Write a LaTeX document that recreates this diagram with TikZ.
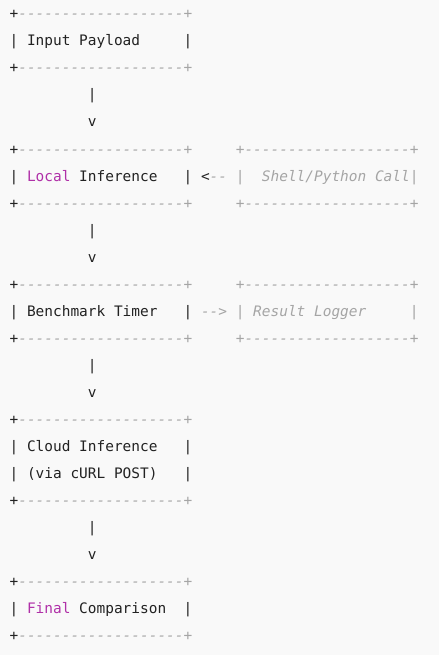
\documentclass[tikz,border=0pt]{standalone}
\usepackage{fontspec}
\setmonofont{DejaVu Sans Mono}
\usepackage{xcolor}
\usepackage{tikz}
\definecolor{bggray}{RGB}{249, 249, 249}
\definecolor{textblack}{RGB}{34, 34, 34}
\definecolor{commentgray}{RGB}{165, 165, 165}
\definecolor{keywordpink}{RGB}{176, 48, 168}
\newcommand{\cmt}[1]{\textcolor{commentgray}{\itshape #1}}
\newcommand{\kw}[1]{\textcolor{keywordpink}{#1}}

\begin{document}
\begin{tikzpicture}[
        x=1pt, y=-1pt,
        ascii/.style={anchor=base west, inner sep=0pt, outer sep=0pt, font=\fontsize{14.45}{17}\selectfont\ttfamily, text=textblack}
    ]

    % Background
    \fill[bggray] (0, 0) rectangle (439, 655);
    \useasboundingbox (0, 0) rectangle (439, 655);

    % Input box
    \node[ascii] (input_top) at (9.65, 19) {+\cmt{-------------------+}};
    \node[ascii] (input) at (9.65, 46) {| Input Payload~~~~~|};
    \node[ascii] (input_bot) at (9.65, 73) {+\cmt{-------------------+}};
    \node[ascii] (stem_a) at (9.65, 100) {~~~~~~~~~|};
    \node[ascii] (tip_a) at (9.65, 127) {~~~~~~~~~v};

    % Local inference and shell call
    \node[ascii] (local_top) at (9.65, 154) {+\cmt{-------------------+~~~~~+-------------------+}};
    \node[ascii] (local) at (9.65, 181) {| \kw{Local} Inference~~~| <\cmt{--~|~~Shell/Python~Call|}};
    \node[ascii] (local_bot) at (9.65, 208) {+\cmt{-------------------+~~~~~+-------------------+}};
    \node[ascii] (stem_b) at (9.65, 235) {~~~~~~~~~|};
    \node[ascii] (tip_b) at (9.65, 262) {~~~~~~~~~v};

    % Benchmark timer and result logger
    \node[ascii] (timer_top) at (9.65, 289) {+\cmt{-------------------+~~~~~+-------------------+}};
    \node[ascii] (timer) at (9.65, 316) {| Benchmark Timer~~~| \cmt{-->~|~Result~Logger~~~~~|}};
    \node[ascii] (timer_bot) at (9.65, 343) {+\cmt{-------------------+~~~~~+-------------------+}};
    \node[ascii] (stem_c) at (9.65, 370) {~~~~~~~~~|};
    \node[ascii] (tip_c) at (9.65, 397) {~~~~~~~~~v};

    % Cloud inference
    \node[ascii] (cloud_top) at (9.65, 424) {+\cmt{-------------------+}};
    \node[ascii] (cloud) at (9.65, 451) {| Cloud Inference~~~|};
    \node[ascii] (cloud_via) at (9.65, 478) {| (via cURL POST)~~~|};
    \node[ascii] (cloud_bot) at (9.65, 505) {+\cmt{-------------------+}};
    \node[ascii] (stem_d) at (9.65, 532) {~~~~~~~~~|};
    \node[ascii] (tip_d) at (9.65, 559) {~~~~~~~~~v};

    % Final comparison
    \node[ascii] (final_top) at (9.65, 586) {+\cmt{-------------------+}};
    \node[ascii] (final) at (9.65, 613) {| \kw{Final} Comparison~~|};
    \node[ascii] (final_bot) at (9.65, 640) {+\cmt{-------------------+}};

\end{tikzpicture}
\end{document}
